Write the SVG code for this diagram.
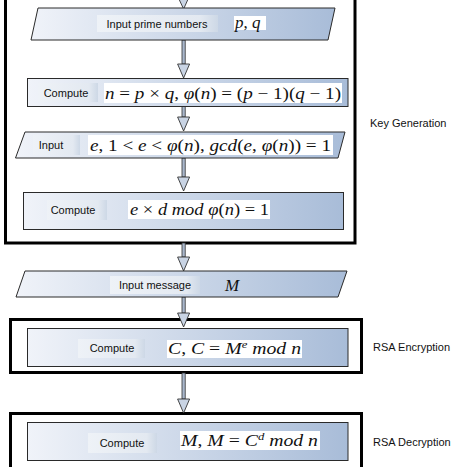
<svg xmlns="http://www.w3.org/2000/svg" width="467" height="467" viewBox="0 0 467 467">
<defs>
<linearGradient id="g" x1="0" y1="0" x2="1" y2="0">
<stop offset="0" stop-color="#f0f3f9"/>
<stop offset="1" stop-color="#a8bcd8"/>
</linearGradient>
<linearGradient id="lg" x1="0" y1="0" x2="1" y2="0">
<stop offset="0" stop-color="#eef2f7"/>
<stop offset="0.85" stop-color="#e3e9f1"/>
<stop offset="1" stop-color="#cdd8e6"/>
</linearGradient>
<style>
.shape{fill:url(#g);stroke:#2a2a2a;stroke-width:1}
.group{fill:none;stroke:#000;stroke-width:3}
.lbl{fill:url(#lg);stroke:none}
.fbox{fill:#fff;stroke:none}
.lt{font-family:"Liberation Sans",Arial,sans-serif;font-size:11px;fill:#111;text-anchor:middle}
.gt{font-family:"Liberation Sans",Arial,sans-serif;font-size:11px;fill:#111}
.m{font-family:"Liberation Serif","Times New Roman",serif;font-size:17px;fill:#111}
.i{font-style:italic}
.shaft{fill:#a9b7cc;stroke:#333;stroke-width:0.8}
.head{fill:#c9d4e4;stroke:#333;stroke-width:0.9}
</style>
</defs>
<rect width="467" height="467" fill="#fff"/>

<!-- group boxes -->
<g id="keygen">
<rect class="group" x="5.5" y="-5" width="349.5" height="248"/>
<text class="gt" x="370" y="127">Key Generation</text>
</g>
<g id="encryption">
<rect class="group" x="10.5" y="319.5" width="351" height="53"/>
<text class="gt" x="373" y="351">RSA Encryption</text>
</g>
<g id="decryption">
<rect class="group" x="10.5" y="413.5" width="351" height="60"/>
<text class="gt" x="373" y="446">RSA Decryption</text>
</g>

<!-- connectors -->
<g id="connectors">
<g><rect class="shaft" x="182" y="-2" width="3.2" height="0"/><polygon class="head" points="178,-3 189,-3 183.6,9"/></g>
<g><rect class="shaft" x="182" y="40" width="3.2" height="24"/><polygon class="head" points="177.6,64 189.6,64 183.6,78"/></g>
<g><rect class="shaft" x="182" y="106" width="3.2" height="11"/><polygon class="head" points="177.6,117 189.6,117 183.6,131"/></g>
<g><rect class="shaft" x="182" y="158" width="3.2" height="19"/><polygon class="head" points="177.6,177 189.6,177 183.6,191"/></g>
<g><rect class="shaft" x="182" y="243" width="3.2" height="14"/><polygon class="head" points="177.6,257 189.6,257 183.6,271"/></g>
<g><rect class="shaft" x="182" y="297" width="3.2" height="16"/><polygon class="head" points="177.6,313 189.6,313 183.6,327"/></g>
<g><rect class="shaft" x="182" y="373" width="3.2" height="26"/><polygon class="head" points="177.6,399 189.6,399 183.6,413"/></g>
</g>

<!-- nodes -->
<g id="n1">
<polygon class="shape" points="38,8 335,8 328,40 31,40"/>
<rect class="lbl" x="97" y="15" width="121" height="17"/>
<text class="lt" x="157" y="27.5">Input prime numbers</text>
<rect class="fbox" x="234" y="16" width="32" height="14"/>
<text class="m" x="235" y="28" font-size="15"><tspan class="i">p</tspan>, <tspan class="i">q</tspan></text>
</g>

<g id="n2">
<rect class="shape" x="27.5" y="78.5" width="320.5" height="28"/>
<rect class="lbl" x="38" y="83" width="60" height="19"/>
<text class="lt" x="66" y="96.5">Compute</text>
<rect class="fbox" x="104" y="83" width="238" height="20"/>
<text class="m" x="105" y="99" textLength="236" lengthAdjust="spacingAndGlyphs"><tspan class="i">n</tspan> = <tspan class="i">p</tspan> × <tspan class="i">q</tspan>, <tspan class="i">φ</tspan>(<tspan class="i">n</tspan>) = (<tspan class="i">p</tspan> − 1)(<tspan class="i">q</tspan> − 1)</text>
</g>

<g id="n3">
<polygon class="shape" points="25,132 345,132 338,158 15.5,158"/>
<rect class="lbl" x="33" y="135" width="47" height="20"/>
<text class="lt" x="51" y="149">Input</text>
<rect class="fbox" x="88" y="135" width="245" height="20"/>
<text class="m" x="90" y="151" textLength="241" lengthAdjust="spacingAndGlyphs"><tspan class="i">e</tspan>, 1 &lt; <tspan class="i">e</tspan> &lt; <tspan class="i">φ</tspan>(<tspan class="i">n</tspan>), <tspan class="i">gcd</tspan>(<tspan class="i">e</tspan>, <tspan class="i">φ</tspan>(<tspan class="i">n</tspan>)) = 1</text>
</g>

<g id="n4">
<rect class="shape" x="23.5" y="192.5" width="320" height="37"/>
<rect class="lbl" x="47" y="200" width="60" height="20"/>
<text class="lt" x="73" y="214">Compute</text>
<rect class="fbox" x="128" y="200" width="142" height="19"/>
<text class="m" x="130" y="215" textLength="139" lengthAdjust="spacingAndGlyphs"><tspan class="i">e</tspan> × <tspan class="i">d mod φ</tspan>(<tspan class="i">n</tspan>) = 1</text>
</g>

<g id="n5">
<polygon class="shape" points="25,271 347,271 338,297 16,297"/>
<rect class="lbl" x="110" y="276" width="90" height="18"/>
<text class="lt" x="155" y="289">Input message</text>
<text class="m i" x="225" y="291" font-size="15">M</text>
</g>

<g id="n6">
<rect class="shape" x="27.5" y="328.5" width="320.5" height="38"/>
<rect class="lbl" x="78" y="339" width="67" height="19"/>
<text class="lt" x="112" y="352">Compute</text>
<rect class="fbox" x="167" y="340" width="135" height="18"/>
<text class="m" x="168" y="354" textLength="133" lengthAdjust="spacingAndGlyphs"><tspan class="i">C</tspan>, <tspan class="i">C</tspan> = <tspan class="i">M</tspan><tspan class="i" font-size="11" dy="-6">e</tspan><tspan class="i" dy="6"> mod n</tspan></text>
</g>

<g id="n7">
<rect class="shape" x="27.5" y="422.5" width="320.5" height="38"/>
<rect class="lbl" x="88" y="433" width="69" height="20"/>
<text class="lt" x="122" y="446.5">Compute</text>
<rect class="fbox" x="180" y="431" width="140" height="19"/>
<text class="m" x="181" y="446" textLength="137" lengthAdjust="spacingAndGlyphs"><tspan class="i">M</tspan>, <tspan class="i">M</tspan> = <tspan class="i">C</tspan><tspan class="i" font-size="11" dy="-6">d</tspan><tspan class="i" dy="6"> mod n</tspan></text>
</g>
</svg>
